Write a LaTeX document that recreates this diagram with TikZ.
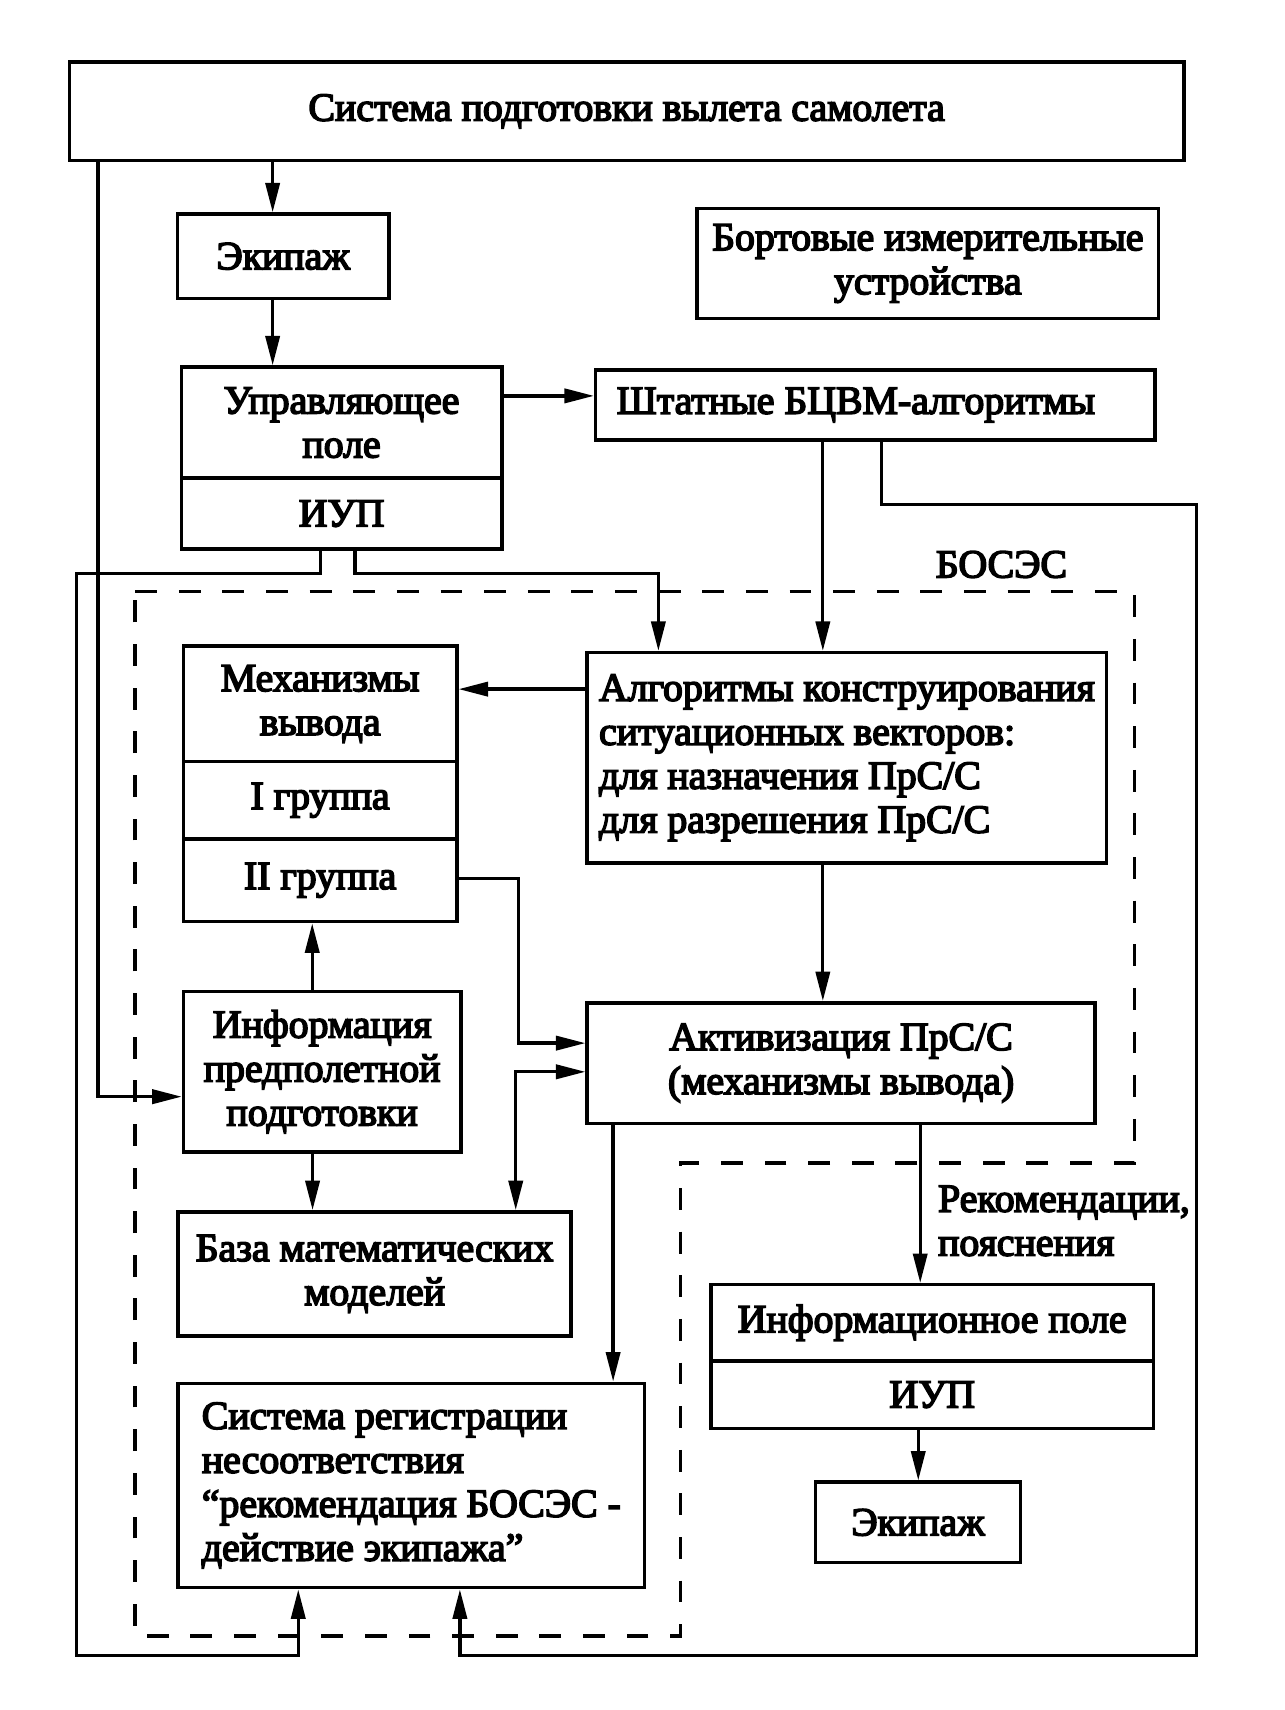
\documentclass[tikz,border=0pt]{standalone}
\usepackage{fontspec}
\setmainfont{Liberation Serif}[FakeBold=4]
\usetikzlibrary{arrows.meta}
\tikzset{
  box/.style={draw, line width=3.2pt, inner sep=0pt, anchor=north west, align=center,
    font=\fontsize{36.5pt}{40.3pt}\selectfont},
  lbl/.style={inner sep=0pt, font=\fontsize{36.5pt}{40.3pt}\selectfont},
  conn/.style={line width=3pt, -{Triangle[length=27pt,width=13pt]}},
  conn2/.style={line width=3pt, {Triangle[length=27pt,width=13pt]}-{Triangle[length=27pt,width=13pt]}},
  bound/.style={line width=3.2pt, dash pattern=on 20pt off 20pt}
}
\begin{document}
\begin{tikzpicture}[x=1pt,y=-1pt]
\fill[white] (0,0) rectangle (1177.4,1568);
\useasboundingbox (0,0) rectangle (1177.4,1568);

% dashed boundary of BOSES
\draw[bound] (124,542.4) -- (1040.5,542.4) -- (1040.5,1066.5) -- (624,1066.5) -- (624,1500) -- (124,1500) -- cycle;

% boxes
\node[box, minimum width=1022pt, minimum height=90.2pt] (sys) at (62,55.4) {Система подготовки вылета самолета};
\node[box, minimum width=194pt, minimum height=77.3pt] (ek1) at (161,194.7) {Экипаж};
\node[box, minimum width=293.8pt, minimum height=101.9pt] (upr) at (164.7,335) {Управляющее\\поле};
\node[box, minimum width=293.8pt, minimum height=64.9pt] (iup1) at (164.7,436.9) {ИУП};
\node[box, minimum width=423pt, minimum height=101pt] (bort) at (637.7,189.5) {Бортовые измерительные\\устройства};
\node[box, minimum width=513pt, minimum height=64.1pt] (sht) at (544.6,337.7) {Штатные БЦВМ-алгоритмы\hspace*{36pt}};
\node[lbl] (boses) at (918.3,517.6) {БОСЭС};
\node[box, minimum width=250.7pt, minimum height=105.9pt] (mech) at (166.6,590.9) {Механизмы\\вывода};
\node[box, minimum width=250.7pt, minimum height=70.9pt] (gr1) at (166.6,696.8) {I группа};
\node[box, minimum width=250.7pt, minimum height=75.8pt] (gr2) at (166.6,767.7) {II группа};
\node[box, minimum width=476.3pt, minimum height=193pt, align=left] (alg) at (536.8,596.8) {Алгоритмы конструирования\\ситуационных векторов:\\для назначения ПрС/С\\для разрешения ПрС/С};
\node[box, minimum width=254.4pt, minimum height=147.3pt] (info) at (166.6,907.4) {Информация\\предполетной\\подготовки};
\node[box, minimum width=465.7pt, minimum height=110.5pt] (act) at (536.8,917.9) {Активизация ПрС/С\\(механизмы вывода)};
\node[box, minimum width=360.3pt, minimum height=113.7pt] (baza) at (161.7,1109.6) {База математических\\моделей};
\node[box, minimum width=427.8pt, minimum height=187.4pt, align=left] (reg) at (161.7,1266.8) {Система регистрации\\несоответствия\\“рекомендация БОСЭС -\\действие экипажа”};
\node[lbl, anchor=north west, align=left] (rek) at (860,1087) {Рекомендации,\\пояснения};
\node[box, minimum width=406pt, minimum height=69.8pt] (ipole) at (650.2,1176.4) {Информационное поле};
\node[box, minimum width=406pt, minimum height=62.2pt] (iup2) at (650.2,1246.2) {ИУП};
\node[box, minimum width=188pt, minimum height=73.7pt] (ek2) at (746.2,1357.5) {Экипаж};

% connectors
\draw[conn] (sys.south -| 250,0) -- (ek1.north -| 250,0);
\draw[conn] (ek1.south -| 250,0) -- (upr.north -| 250,0);
\draw[conn] (upr.east |- 0,363) -- (sht.west |- 0,363);
\draw[conn] (sht.south -| 754.5,0) -- (alg.north -| 754.5,0);
\draw[conn] (sht.south -| 808.3,0) -- (808.3,462.5) -- (1097,462.5) -- (1097,1518) -- (421.7,1518) -- (reg.south -| 421.7,0);
\draw[conn] (iup1.south -| 293.8,0) -- (293.8,526) -- (70,526) -- (70,1518) -- (273.5,1518) -- (reg.south -| 273.5,0);
\draw[conn] (iup1.south -| 325.6,0) -- (325.6,526) -- (603.7,526) -- (alg.north -| 603.7,0);
\draw[conn] (sys.south -| 89.8,0) -- (89.8,1005.6) -- (info.west |- 0,1005.6);
\draw[conn] (alg.west |- 0,631.9) -- (mech.east |- 0,631.9);
\draw[conn] (info.north -| 286.3,0) -- (gr2.south -| 286.3,0);
\draw[conn] (gr2.east |- 0,805.6) -- (475.4,805.6) -- (475.4,956.5) -- (act.west |- 0,956.5);
\draw[conn2] (act.west |- 0,982.8) -- (472.9,982.8) -- (baza.north -| 472.9,0);
\draw[conn] (info.south -| 286.6,0) -- (baza.north -| 286.6,0);
\draw[conn] (alg.south -| 754.5,0) -- (act.north -| 754.5,0);
\draw[conn] (act.south -| 562.2,0) -- (reg.north -| 562.2,0);
\draw[conn] (act.south -| 843.8,0) -- (ipole.north -| 843.8,0);
\draw[conn] (iup2.south -| 842,0) -- (ek2.north -| 842,0);
\end{tikzpicture}
\end{document}
